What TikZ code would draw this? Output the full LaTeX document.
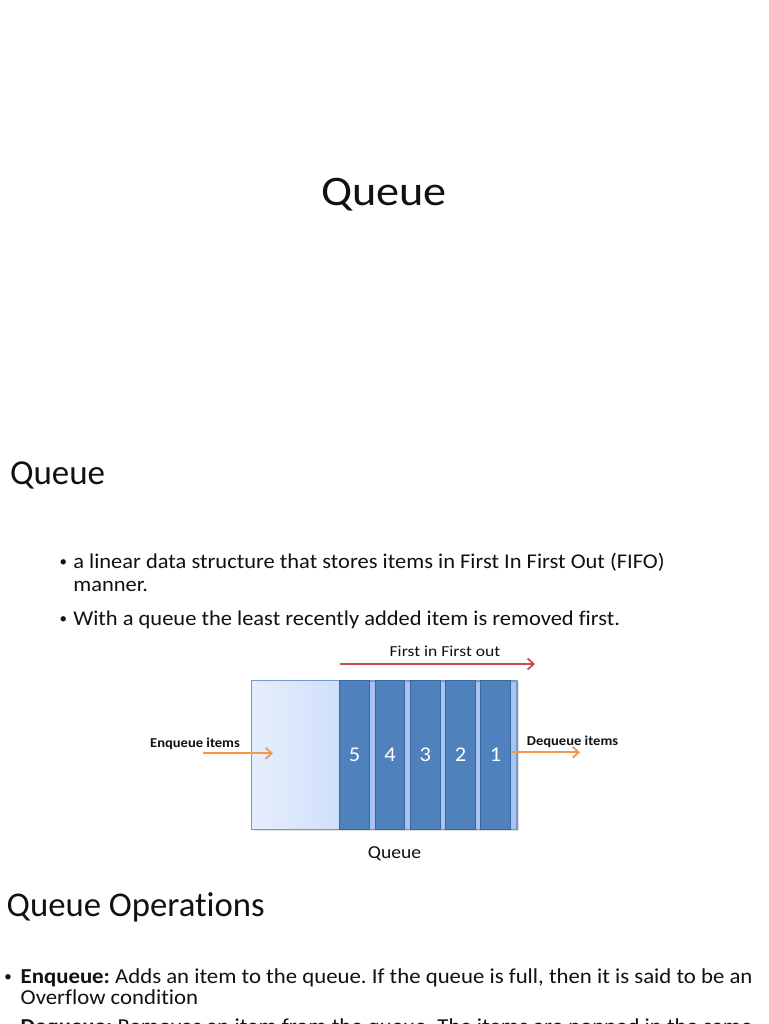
\documentclass[tikz,border=0pt]{standalone}
\usepackage{fontspec}
\setmainfont{Carlito}[Ligatures=NoCommon]
\newfontfamily\stretchA{Carlito}[FakeStretch=1.07,Ligatures=NoCommon]
\newfontfamily\stretchB{Carlito}[FakeStretch=1.1,Ligatures=NoCommon]
\newfontfamily\stretchC{Carlito}[FakeStretch=1.15,Ligatures=NoCommon]
\usetikzlibrary{arrows.meta}
\definecolor{cellblue}{HTML}{4F81BD}
\definecolor{celledge}{HTML}{3B67A0}
\definecolor{gapblue}{HTML}{A9C4F0}
\definecolor{boxedge}{HTML}{7399CF}
\definecolor{lightL}{HTML}{E6EEFD}
\definecolor{lightR}{HTML}{CFDFFB}
\definecolor{fifored}{HTML}{C0504D}
\definecolor{orangearr}{HTML}{F79646}
\definecolor{txtc}{HTML}{111111}
\begin{document}
\frenchspacing
\begin{tikzpicture}[x=1pt,y=-1pt,
  txt/.style={inner sep=0pt, outer sep=0pt, anchor=base west, text=txtc},
  bodytxt/.style={txt, font=\stretchA\fontsize{21}{24}\selectfont},
  opstxt/.style={txt, font=\stretchA\fontsize{21.3}{24}\selectfont},
  dot/.style={txt, font=\fontsize{15}{18}\selectfont},
  cell/.style={draw=celledge, line width=1pt, fill=cellblue, minimum width=29.5pt, minimum height=149pt, inner sep=0pt, text=white, font=\stretchA\fontsize{21}{24}\selectfont},
  redarrow/.style={draw=fifored, line width=1.8pt, -{Straight Barb[length=6pt,width=11pt,line width=1.8pt]}},
  orangearrow/.style={draw=orangearr, line width=1.8pt, -{Straight Barb[length=6pt,width=11pt,line width=1.8pt]}},
  lbl/.style={inner sep=0pt, anchor=base, text=txtc}
]
\useasboundingbox (0,0) rectangle (768,1024);
\clip (0,0) rectangle (768,1024);
\fill[white] (0,0) rectangle (768,1024);

% Title
\node[lbl, font=\stretchB\fontsize{42}{50}\selectfont] (title) at (384,206) {Queue};

% Section heading
\node[txt, font=\fontsize{35}{42}\selectfont] (h1) at (10,484.3) {Queue};

% Bullets
\node[dot] (d1) at (59.5,566.5) {•};
\node[bodytxt] (l1a) at (73.3,568.3) {a linear data structure that stores items in First In First Out (FIFO)};
\node[bodytxt] (l1b) at (73.3,591.7) {manner.};
\node[dot] (d2) at (59.5,623.2) {•};
\node[bodytxt] (l2) at (73.3,625) {With a queue the least recently added item is removed first.};

% Diagram: queue box
\fill[black!35, opacity=0.35] (253.7,683) rectangle (518.7,831);
\node[draw=boxedge, line width=0.8pt, fill=gapblue, minimum width=265pt, minimum height=148pt, inner sep=0pt] (qbox) at (384.2,755) {};
\shade[left color=lightL, right color=lightR] (252.2,681.5) rectangle (340,828.5);
\draw[boxedge, line width=0.8pt] (qbox.north west) rectangle (qbox.south east);

\node[cell] (c5) at (354.65,754.5) {5};
\node[cell] (c4) at (390,754.5) {4};
\node[cell] (c3) at (425.35,754.5) {3};
\node[cell] (c2) at (460.65,754.5) {2};
\node[cell] (c1) at (495.5,754.5) {1};

% FIFO arrow
\coordinate (fifoS) at (340,664);
\coordinate (fifoE) at (535,664);
\draw[redarrow] (fifoS) -- (fifoE);
\node[lbl, font=\stretchC\fontsize{15.3}{18}\selectfont] (fifo) at (445,656.7) {First in First out};

% Enqueue
\node[lbl, font=\stretchA\bfseries\fontsize{13.6}{16}\selectfont] (enq) at (195,747.7) {Enqueue items};
\coordinate (enqS) at (203,753.3);
\coordinate (enqE) at (273,753.3);
\draw[orangearrow] (enqS) -- (enqE);

% Dequeue
\node[lbl, font=\stretchA\bfseries\fontsize{13.6}{16}\selectfont] (deq) at (572.5,745) {Dequeue items};
\coordinate (deqE) at (580,752.3);
\draw[orangearrow] (c1.east |- deqE) -- (deqE);

% Caption
\node[lbl, font=\stretchA\fontsize{18.3}{22}\selectfont] (cap) at (394.5,858.3) {Queue};

% Queue Operations
\node[txt, font=\fontsize{34.7}{40}\selectfont] (h2) at (6.7,916.7) {Queue Operations};
\node[dot] (d3) at (4.5,981.5) {•};
\node[opstxt] (o1a) at (20.7,983.3) {\textbf{Enqueue:} Adds an item to the queue. If the queue is full, then it is said to be an};
\node[opstxt] (o1b) at (20.7,1004.3) {Overflow condition};
\node[dot] (d4) at (4.5,1031.2) {•};
\node[opstxt] (o2a) at (20.7,1033) {\textbf{Dequeue:} Removes an item from the queue. The items are popped in the same};
\end{tikzpicture}
\end{document}
